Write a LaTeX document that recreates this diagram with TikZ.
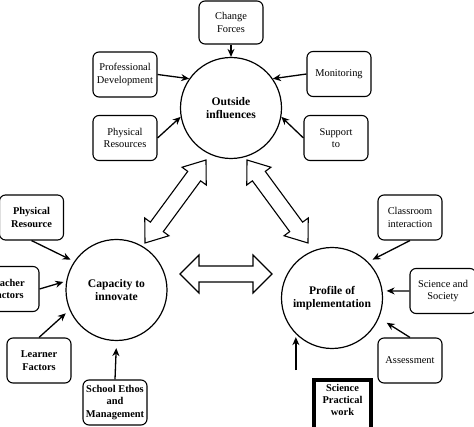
\documentclass[tikz,border=0pt]{standalone}
\usepackage{fontspec}
\setmainfont{Liberation Serif}
\usetikzlibrary{calc,arrows.meta}
% #1,#2 end coordinates, #3 head half width, #4 shaft half width, #5 head length
\newcommand\hollowpair[5]{%
  \draw[hollow] (#1)
    -- ($(#1)!#5!(#2)!#3!90:(#2)$)
    -- ($(#1)!#5!(#2)!#4!90:(#2)$)
    -- ($(#2)!#5!(#1)!#4!270:(#1)$)
    -- ($(#2)!#5!(#1)!#3!270:(#1)$)
    -- (#2)
    -- ($(#2)!#5!(#1)!#3!90:(#1)$)
    -- ($(#2)!#5!(#1)!#4!90:(#1)$)
    -- ($(#1)!#5!(#2)!#4!270:(#2)$)
    -- ($(#1)!#5!(#2)!#3!270:(#2)$)
    -- cycle;}
\begin{document}
\begin{tikzpicture}[x=1pt,y=-1pt,
  box/.style={draw, rounded corners=6pt, line width=1.1pt, minimum width=64pt,
    minimum height=45pt, align=center, inner sep=1pt,
    font=\fontsize{10.4}{12.3}\selectfont},
  bbox/.style={box, font=\fontsize{10.4}{12.3}\selectfont\bfseries},
  hub/.style={draw, circle, line width=1.2pt, minimum size=101pt, align=center,
    inner sep=0pt, font=\fontsize{11.6}{13.3}\selectfont\bfseries},
  arr/.style={-{Stealth[length=8pt,width=7pt]}, line width=1.3pt},
  hollow/.style={draw, line width=1.1pt, fill=white, line join=miter}]
\useasboundingbox (0,0) rectangle (474,427);
\clip (0,0) rectangle (474,427);

% hubs
\node[hub] (outs) at (231,108) {Outside\\influences};
\node[hub] (cap) at (116.5,290) {Capacity to\\innovate};
\node[hub] (prof) at (332,298) {Profile of\\implementation};

% boxes around Outside influences
\node[box, minimum height=43pt] (cf) at (231,22.5) {Change\\Forces};
\node[box] (pd) at (125,74.5) {Professional\\Development};
\node[box] (mon) at (339,74) {Monitoring};
\node[box] (pr) at (125,138) {Physical\\Resources};
\node[box] (sup) at (336,138) {Support\\to};

% boxes around Capacity to innovate
\node[bbox] (phr) at (31.5,217.5) {Physical\\Resource};
\node[bbox] (tea) at (7,289) {Teacher\\Factors};
\node[bbox] (lea) at (39,360.5) {Learner\\Factors};
\node[bbox] (seth) at (115,402.5) {School Ethos\\and\\Management};

% boxes around Profile of implementation
\node[box] (cls) at (410,217.5) {Classroom\\interaction};
\node[box, minimum width=66pt] (sas) at (443,291) {Science and\\Society};
\node[box] (ass) at (410,360.5) {Assessment};
\node[draw, line width=4pt, minimum width=57pt, minimum height=52pt] (spwbox) at (342.5,406) {};
\node[align=center, font=\fontsize{10.4}{12}\selectfont\bfseries] (spw) at (342.5,400) {Science\\Practical\\work};

% arrows
\draw[arr] (cf.south) -- (outs.90);
\draw[arr] (pd.east) -- (outs.145);
\draw[arr] (mon.west) -- (outs.35);
\draw[arr] (pr.east) -- (outs.190);
\draw[arr] (sup.west) -- (outs.350);

\draw[arr, shorten >=4pt] (phr.south) -- (cap.146);
\draw[arr, shorten >=3pt] (tea.east) -- (cap.170);
\draw[arr, shorten >=5pt] (lea.north) -- (cap.203);
\draw[arr, shorten >=7pt] (seth.north) -- (cap.south);

\draw[arr, shorten >=5pt] (cls.south) -- (prof.45);
\draw[arr, shorten >=4pt] (sas.west) -- (prof.8);
\draw[arr, shorten >=9pt] (ass.north) -- (prof.337);
\coordinate (spwin) at ($(prof.225)+(0,36)$);
\draw[arr, shorten >=3pt] (spwin) -- (prof.225);

% hollow double arrows
\coordinate (h1a) at (145,243);
\coordinate (h1b) at (206,160);
\coordinate (h2a) at (308,243);
\coordinate (h2b) at (247,160);
\coordinate (h3a) at (180,274);
\coordinate (h3b) at (272,274);
\hollowpair{h1a}{h1b}{15pt}{8pt}{20pt}
\hollowpair{h2a}{h2b}{15pt}{8pt}{20pt}
\hollowpair{h3a}{h3b}{19pt}{8pt}{19pt}
\end{tikzpicture}
\end{document}
